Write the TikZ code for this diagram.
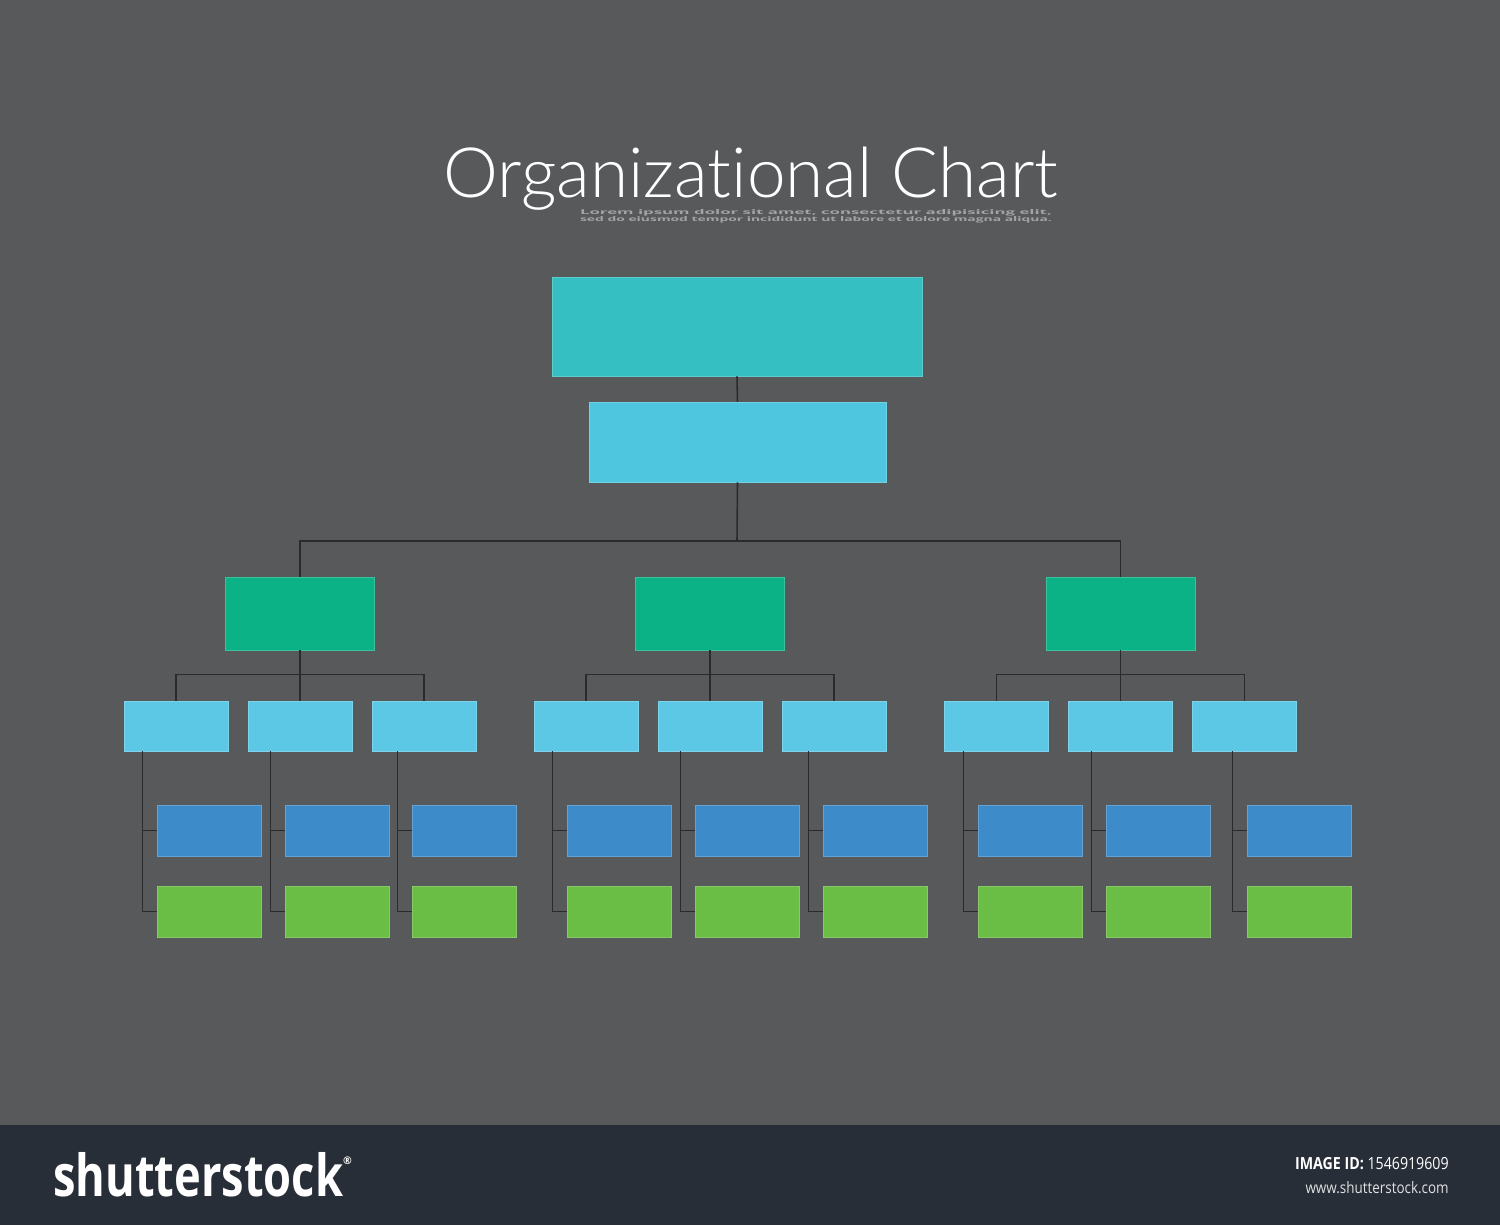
\documentclass[tikz,border=0pt]{standalone}
\usepackage{fontspec}
\usetikzlibrary{calc}
\setmainfont{Open Sans}
\IfFontExistsTF{Lato Light}{\newfontfamily\titlefont{Lato Light}[Ligatures=NoCommon]}{\newfontfamily\titlefont{Lato}[Ligatures=NoCommon]}
\newfontfamily\logofont{Open Sans}
\definecolor{canvas}{HTML}{58595B}
\definecolor{footer}{HTML}{282E38}
\definecolor{ctop}{HTML}{35BFC3}
\definecolor{csub}{HTML}{4FC6DF}
\definecolor{chead}{HTML}{0AB286}
\definecolor{cunit}{HTML}{5DC8E6}
\definecolor{cblue}{HTML}{3D8BC9}
\definecolor{clime}{HTML}{6ABD45}
\definecolor{cline}{HTML}{2B2B2E}
\definecolor{cnote}{HTML}{A3A4A6}

\begin{document}
\begin{tikzpicture}[x=0.02cm, y=-0.02cm,
    box/.style={fill=#1, draw=#1!80!white, line width=0.5pt, inner sep=0pt},
    headbox/.style={box=chead, minimum width=2.98cm, minimum height=1.46cm},
    unitbox/.style={box=cunit, minimum width=2.08cm, minimum height=1.0cm},
    leafbox/.style={box=#1, minimum width=2.08cm, minimum height=1.02cm},
    notetext/.style={text=cnote, inner sep=0pt, font=\bfseries\fontsize{7}{7}\selectfont},
    link/.style={draw=cline, line width=0.9pt}]
  % page and footer
  \fill[canvas] (0,0) rectangle (1500,1125);
  \fill[footer] (0,1125) rectangle (1500,1225);
  \useasboundingbox (0,0) rectangle (1500,1225);

  % title
  \node[anchor=base, text=white, inner sep=0pt,
        font=\titlefont\fontsize{39.5}{39.5}\selectfont] (title) at (751,197) {Organizational Chart};
  \node[notetext] (note1) at (816,212.5)
        {\resizebox{9.44cm}{0.1cm}{Lorem ipsum dolor sit amet, consectetur adipisicing elit,}};
  \node[notetext] (note2) at (816,219.5)
        {\resizebox{9.44cm}{0.1cm}{sed do eiusmod tempor incididunt ut labore et dolore magna aliqua.}};

  % top levels
  \node[box=ctop, minimum width=7.4cm, minimum height=1.98cm] (chief) at (737,326.5) {};
  \node[box=csub, minimum width=5.94cm, minimum height=1.6cm] (deputy) at (737.5,442) {};
  \draw[link] (chief.south) -- (deputy.north);
  \coordinate (bus) at (737,541);
  \draw[link] (deputy.south) -- (bus);

  % heads and units
  \foreach \g/\hx in {A/300,B/710,C/1120.5} {
    \node[headbox] (head\g) at (\hx,613.5) {};
    \foreach \k/\dx in {1/-124,2/0,3/124}
      \node[unitbox] (unit\g\k) at ({\hx+\dx},726) {};
    \coordinate (bus\g) at ($(head\g.south)+(0,24)$);
    \draw[link] (head\g.south) -- (bus\g);
    \draw[link] (unit\g1.north) |- (bus\g) -| (unit\g3.north);
    \draw[link] (bus\g) -- (unit\g2.north);
  }
  \draw[link] (headA.north) |- (bus) -| (headC.north);

  % leaves
  \foreach \u/\bx in {A1/209,A2/337,A3/464,B1/619,B2/747,B3/875,C1/1030,C2/1158,C3/1299} {
    \node[leafbox=cblue] (blue\u) at (\bx,830.5) {};
    \node[leafbox=clime] (lime\u) at (\bx,911.5) {};
    \coordinate (drop\u) at ($(blue\u.west)+(-14,0)$);
    \draw[link] (unit\u.south -| drop\u) |- (lime\u.west);
    \draw[link] (drop\u) -- (blue\u.west);
  }

  % footer text
  \node[anchor=base west, text=white, inner sep=0pt,
        font=\logofont\bfseries\fontsize{33}{33}\selectfont] (logo) at (53,1196)
        {\scalebox{0.78}[1]{shutterstock}\raisebox{0.55em}{\fontsize{6}{6}\selectfont ®}};
  \node[anchor=base east, text=white, inner sep=0pt,
        font=\fontsize{9.5}{9.5}\selectfont] (imgid) at (1449,1169)
        {\scalebox{0.85}[1]{\bfseries IMAGE ID: \mdseries 1546919609}};
  \node[anchor=base east, text=white!85!footer, inner sep=0pt,
        font=\fontsize{9}{9}\selectfont] (site) at (1449,1193)
        {\scalebox{0.85}[1]{www.shutterstock.com}};
\end{tikzpicture}
\end{document}
